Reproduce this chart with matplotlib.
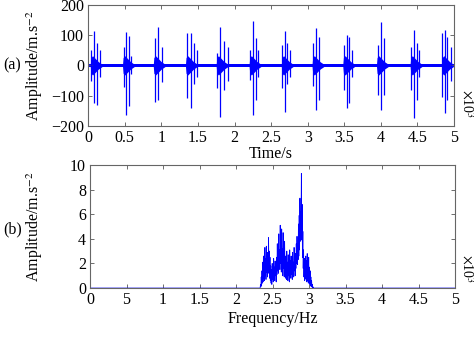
import numpy as np
import matplotlib.pyplot as plt

plt.rcParams['font.family'] = ['Liberation Serif', 'DejaVu Serif']
plt.rcParams['mathtext.fontset'] = 'stix'
plt.rcParams['font.size'] = 11.5

# ---- (a) time signal ----
# burst start times (s)
burst_t = [0.03, 0.47, 0.89, 1.33, 1.75, 2.20, 2.64, 3.06, 3.48, 3.94, 4.40, 4.83]
# dense core envelope of one burst (offset from start, amplitude)
core_dt = [0.0, 0.008, 0.03, 0.07, 0.11, 0.16]
core_amp = [4, 26, 32, 22, 12, 4]
# background noise level
base_t = [0.0, 5.0]
base_amp = [4.5, 4.5]
# individual spikes: time, top, bottom
spike_t = [0.036, 0.078, 0.123, 0.164,
           0.483, 0.519, 0.560, 0.585,
           0.915, 0.960, 1.015,
           1.357, 1.403, 1.440, 1.485,
           1.767, 1.800, 1.857, 1.908,
           2.209, 2.254, 2.295, 2.322,
           2.655, 2.691, 2.723, 2.760,
           3.074, 3.110, 3.156,
           3.497, 3.534, 3.566, 3.600,
           3.962, 3.998, 4.044,
           4.417, 4.454, 4.490, 4.520,
           4.840, 4.872, 4.908, 4.954]
spike_hi = [50, 114, 74, 51,
            62, 110, 98, 30,
            92, 128, 62,
            108, 106, 73, 51,
            41, 128, 79, 62,
            51, 145, 90, 51,
            68, 115, 73, 51,
            73, 123, 95,
            68, 101, 95, 51,
            68, 142, 90,
            62, 117, 73, 51,
            106, 117, 95, 62]
spike_lo = [-50, -125, -130, -40,
            -70, -164, -134, -30,
            -120, -114, -55,
            -108, -141, -60, -40,
            -76, -169, -80, -50,
            -48, -164, -114, -40,
            -76, -153, -60, -40,
            -67, -147, -114,
            -80, -141, -125, -40,
            -98, -147, -98,
            -80, -175, -114, -40,
            -103, -158, -114, -50]

time_ticks = [0, 0.5, 1, 1.5, 2, 2.5, 3, 3.5, 4, 4.5, 5]
time_labels = ['0', '0.5', '1', '1.5', '2', '2.5', '3', '3.5', '4', '4.5', '5']
amp_ticks = [-200, -100, 0, 100, 200]

# ---- (b) spectrum (step 0.005 from 2.33) ----
spec_start = 2.33
spec_amp = [0, 0.3, 0.1, 0.9, 0.2, 1.4, 0.4, 2.1, 0.5, 2.6,
            0.8, 1.9, 0.6, 3.3, 1.0, 2.4, 0.7, 3.4, 1.3, 2.2,
            0.9, 2.9, 1.2, 4.1, 1.5, 3.0, 0.8, 2.5, 0.6, 1.8,
            0.4, 1.5, 0.3, 2.0, 0.7, 1.6, 0.5, 2.4, 0.9, 1.7,
            0.6, 2.2, 1.0, 1.9, 0.5, 2.5, 1.1, 3.6, 1.4, 2.8,
            1.2, 4.4, 1.8, 3.1, 1.5, 5.1, 2.0, 3.7, 1.3, 4.8,
            1.9, 3.2, 1.0, 4.5, 1.6, 2.9, 0.9, 3.8, 1.4, 2.6,
            0.8, 2.3, 0.7, 3.0, 1.2, 2.1, 0.6, 2.7, 1.0, 1.9,
            0.5, 3.1, 1.3, 2.2, 0.8, 2.6, 1.1, 1.8, 0.7, 2.9,
            1.5, 2.1, 0.9, 3.3, 1.4, 2.4, 1.0, 2.8, 1.6, 3.6,
            2.0, 4.2, 1.9, 3.4, 2.3, 5.2, 2.6, 5.9, 3.1, 7.3,
            3.8, 6.2, 4.4, 9.3, 3.9, 6.8, 2.5, 4.6, 1.6, 3.1,
            0.9, 2.4, 0.6, 2.0, 0.8, 2.6, 0.7, 2.2, 0.5, 2.8,
            0.6, 1.9, 0.4, 2.5, 0.5, 1.7, 0.3, 1.4, 0.2, 0.9,
            0.1, 0.6, 0.1, 0.3, 0.0, 0.1, 0]
freq_ticks = time_ticks
freq_labels = ['0', '5', '1', '1.5', '2', '2.5', '3', '3.5', '4', '4.5', '5']
spec_ticks = [0, 2, 4, 6, 8, 10]

blue = '#0000ff'
fig = plt.figure(figsize=(4.74, 3.45), dpi=100)

# top panel
ax1 = fig.add_axes([0.186, 0.635, 0.772, 0.351])
ax1.fill_between(base_t, [-a for a in base_amp], base_amp, color=blue, lw=0)
for b in burst_t:
    tt = [b + d for d in core_dt]
    ax1.fill_between(tt, [-a for a in core_amp], core_amp, color=blue, lw=0)
ax1.vlines(spike_t, spike_lo, spike_hi, color=blue, lw=0.9)
ax1.set_xlim(0, 5)
ax1.set_ylim(-200, 200)
ax1.set_xticks(time_ticks)
ax1.set_xticklabels(time_labels)
ax1.set_yticks(amp_ticks)
ax1.set_xlabel('Time/s', labelpad=0)
ax1.set_ylabel('Amplitude/m.s$^{-2}$')
ax1.yaxis.set_label_coords(-0.118, 0.5)
fig.text(0.006, 0.81, '(a)', ha='left', va='center')
fig.text(0.985, 0.70, r'$\times$10$^3$', rotation=270, ha='center', va='center', fontsize=10)

# bottom panel
ax2 = fig.add_axes([0.19, 0.165, 0.77, 0.357])
freq = [0.0] + [spec_start + 0.005 * i for i in range(len(spec_amp))] + [5.0]
amp = [0.0] + spec_amp + [0.0]
ax2.plot(freq, amp, color=blue, lw=0.6)
ax2.set_xlim(0, 5)
ax2.set_ylim(0, 10)
ax2.set_xticks(freq_ticks)
ax2.set_xticklabels(freq_labels)
ax2.set_yticks(spec_ticks)
ax2.set_xlabel('Frequency/Hz', labelpad=2)
ax2.set_ylabel('Amplitude/m.s$^{-2}$')
ax2.yaxis.set_label_coords(-0.124, 0.5)
fig.text(0.006, 0.335, '(b)', ha='left', va='center')
fig.text(0.985, 0.22, r'$\times$10$^3$', rotation=270, ha='center', va='center', fontsize=10)

for ax in (ax1, ax2):
    ax.tick_params(direction='in', top=True, right=True, length=3, width=0.6,
                   colors='#555555', labelcolor='black', pad=3)
    for s in ax.spines.values():
        s.set_color('#666666')
        s.set_linewidth(0.8)

fig.savefig('out.png', dpi=100)
